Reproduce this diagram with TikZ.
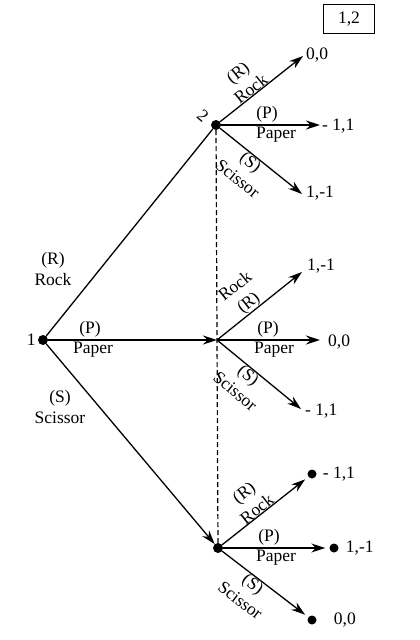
\documentclass[tikz,border=0pt]{standalone}
\usepackage{fontspec}
\setmainfont{Liberation Serif}
\usepackage{tikz}
\usetikzlibrary{arrows.meta,positioning,calc}

\tikzset{
  move/.style={line width=1.3pt,-{Stealth[length=14pt,width=9pt]}},
  dotnode/.style={circle,fill=black,inner sep=0pt,minimum size=10pt},
  enddot/.style={circle,fill=black,inner sep=0pt,minimum size=9pt},
  lbl/.style={font=\fontsize{17.5}{21}\selectfont,align=center,inner sep=1pt},
  pay/.style={font=\fontsize{17.5}{21}\selectfont,inner sep=0pt}
}

\begin{document}
\begin{tikzpicture}[x=1pt,y=-1pt]
                    \useasboundingbox (0,0) rectangle (420,640);
                    % decision nodes
                    \node[dotnode] (p1) at (43,340) {};
                    \node[lbl,left=1pt of p1] (p1l) {1};
                    \node[dotnode] (top) at (216,125) {};
                    \node[lbl,rotate=-40] (topl) at (203,116) {2};
                    \coordinate (mid) at (217,340);
                    \node[dotnode] (bot) at (218,548) {};
                    \draw[line width=1.2pt,dash pattern=on 5pt off 3pt] (top) -- (bot);
                    % first mover
                    \draw[line width=1.3pt] (p1) -- (top);
                    \draw[move] (p1) -- (mid);
                    \draw[move] (p1) -- (bot);
                    \node[lbl] (l1r) at (53,269) {(R)\\Rock};
                    \node[lbl,above] (l1p) at (90,338) {(P)};
                    \node[lbl,below] (l1q) at (93,341) {Paper};
                    \node[lbl] (l1s) at (60,407) {(S)\\Scissor};
                    % top branches
                    \coordinate (tR) at (303,56);
                    \coordinate (tP) at (320,125);
                    \coordinate (tS) at (302,194);
                    \draw[move] (top) -- (tR) node[lbl,sloped,above=-1pt,pos=0.42] {(R)\\Rock};
                    \draw[move] (top) -- (tP);
                    \draw[move] (top) -- (tS) node[lbl,sloped,below=-1pt,pos=0.43] {(S)\\Scissor};
                    \node[lbl,above] (tpa) at (267,123) {(P)};
                    \node[lbl,below] (tpb) at (276,126) {Paper};
                    \node[pay,anchor=west] (tRv) at (306,55) {0,0};
                    \node[pay,anchor=west] (tPv) at (322,126) {- 1,1};
                    \node[pay,anchor=west] (tSv) at (306,193) {1,-1};
                    % middle branches
                    \coordinate (mR) at (302,272);
                    \coordinate (mP) at (320,340);
                    \coordinate (mS) at (301,409);
                    \draw[move] (mid) -- (mR) node[lbl,sloped,above=-1pt,pos=0.44] {Rock\\(R)};
                    \draw[move] (mid) -- (mP);
                    \draw[move] (mid) -- (mS) node[lbl,sloped,below=-1pt,pos=0.43] {(S)\\Scissor};
                    \node[lbl,above] (mpa) at (268,338) {(P)};
                    \node[lbl,below] (mpb) at (274,341) {Paper};
                    \node[pay,anchor=west] (mRv) at (307,266) {1,-1};
                    \node[pay,anchor=west] (mPv) at (328,342) {0,0};
                    \node[pay,anchor=west] (mSv) at (305,411) {- 1,1};
                    % bottom branches
                    \node[enddot] (bRd) at (312,474) {};
                    \node[enddot] (bPd) at (334,548) {};
                    \node[enddot] (bSd) at (312,620) {};
                    \draw[move,shorten >=4pt] (bot) -- (bRd) node[lbl,sloped,above=-1pt,pos=0.45] {(R)\\Rock};
                    \draw[move,shorten >=4pt] (bot) -- (bPd);
                    \draw[move,shorten >=4pt] (bot) -- (bSd) node[lbl,sloped,below=-1pt,pos=0.41] {(S)\\Scissor};
                    \node[lbl,above] (bpa) at (269,546) {(P)};
                    \node[lbl,below] (bpb) at (276,549) {Paper};
                    \node[pay,right=6pt of bRd] (bRv) {- 1,1};
                    \node[pay,right=7pt of bPd] (bPv) {1,-1};
                    \node[pay,right=17pt of bSd] (bSv) {0,0};
                    % payoff order
                    \node[lbl,draw,line width=0.8pt,minimum width=51pt,minimum height=29pt] (ord) at (349,19) {1,2};
                \end{tikzpicture}
\end{document}
